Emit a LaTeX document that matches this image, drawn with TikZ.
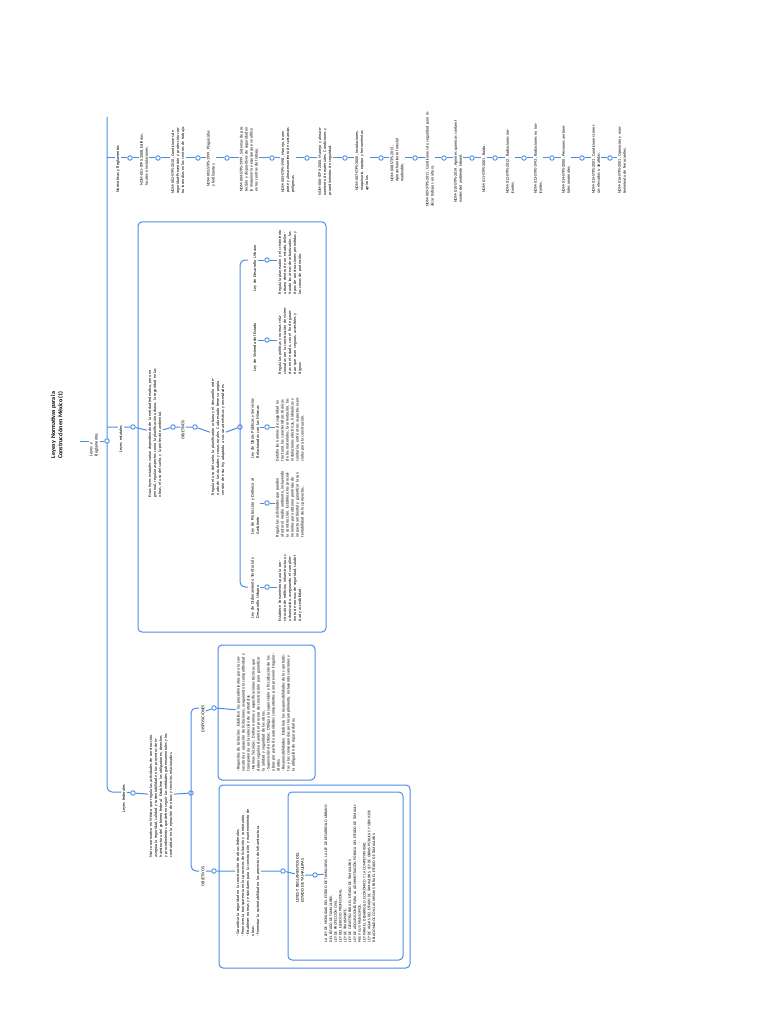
\documentclass[tikz,border=0pt]{standalone}
\usepackage{fontspec}
\setmainfont{Carlito}
\definecolor{mblue}{RGB}{74,140,228}
\begin{document}
\begin{tikzpicture}[x=1pt,y=-1pt,
 ln/.style={draw=mblue,line width=1pt},
 dot/.style={circle,draw=mblue,fill=white,line width=0.9pt,minimum size=4.5pt,inner sep=0pt},
 txt/.style={rotate=90,align=left,font=\fontsize{4.1}{5}\selectfont,inner sep=1pt,text width=#1},
 txt/.default=60,
 lab/.style={rotate=90,align=left,font=\fontsize{4.3}{5.1}\selectfont,inner sep=1pt,text width=#1},
 lab/.default=50,
 box/.style={draw=mblue,line width=1pt,rounded corners=4pt}]
\useasboundingbox (0,0) rectangle (768,1024);
\fill[white] (0,0) rectangle (768,1024);
% title & root
\node[rotate=90,align=center,font=\fontsize{6}{7.2}\selectfont\bfseries] (title) at (57,425) {Leyes y Normativas para la\\Construcción en México (1)};
\node[lab=30] (root) at (94,441) {Leyes y Reglamentos};
\coordinate (tt) at (80,441);
\draw[ln] (tt) -- (root);
% spine
\coordinate (sTop) at (107,117);
\coordinate (sBot) at (121,792);
\draw[ln,rounded corners=5pt] (sTop) -- (107,792) -- (sBot);
\node[dot] (rootdot) at (107,441) {};
\draw[ln] (root) -- (rootdot);
% Normativas chain
\node[lab=70] (norm) at (118,158) {Normativas y Reglamentos};
\coordinate (sn) at (107,158);
\draw[ln] (sn) -- (norm);
\foreach \i/\cx/\nx/\w/\t in {
1/130/144/55/{NOM-001-STPS-2008, Edificios, locales e instalaciones.},
2/158/178/72/{NOM-002-STPS-2010, Condiciones de seguridad-Prevención y protección contra incendios en los centros de trabajo.},
3/198/211/58/{NOM-003-STPS-1999, Plaguicidas y fertilizantes.},
4/227/249/68/{NOM-004-STPS-1999, Sistemas de protección y dispositivos de seguridad en la maquinaria y equipo que se utilice en los centros de trabajo.},
5/272/288/70/{NOM-005-STPS-1998, Manejo, transporte y almacenamiento de sustancias peligrosas.},
6/307/325/75/{NOM-006-STPS-2000, Manejo y almacenamiento de materiales. Condiciones y procedimientos de seguridad.},
7/345/362/66/{NOM-007-STPS-2000, Instalaciones, maquinaria, equipo y herramientas agrícolas.},
8/381/397/48/{NOM-008-STPS-2013, Aprovechamiento forestal maderable.},
9/415/430/98/{NOM-009-STPS-2011, Condiciones de seguridad para realizar trabajos en altura.},
10/444/458/90/{NOM-010-STPS-2014, Agentes químicos contaminantes del ambiente laboral.},
11/472/484/70/{NOM-011-STPS-2001, Ruido.},
12/495/510/72/{NOM-012-STPS-2012, Radiaciones ionizantes.},
13/524/538/72/{NOM-013-STPS-1993, Radiaciones no ionizantes.},
14/552/566/72/{NOM-014-STPS-2000, Presiones ambientales anormales.},
15/582/596/72/{NOM-015-STPS-2001, Condiciones térmicas elevadas o abatidas.},
16/610/622/72/{NOM-016-STPS-2001, Operación y mantenimiento de ferrocarriles.}}{
 \node[dot] (c\i) at (\cx,158) {};
 \node[txt=\w] (n\i) at (\nx,158) {\t};
 \draw[ln] (c\i) -- (n\i);
}
\draw[ln] (norm) -- (c1);
\foreach \a/\b in {1/2,2/3,3/4,4/5,5/6,6/7,7/8,8/9,9/10,10/11,11/12,12/13,13/14,14/15,15/16}{
 \draw[ln] (n\a) -- (c\b);
}
% Leyes estatales
\draw[box] (138,222) rectangle (326,632);
\coordinate (se) at (107,427);
\node[lab=50] (est) at (121,427) {Leyes estatales};
\node[dot] (estdot) at (133,427) {};
\node[txt=130] (estT) at (155,432) {Estas leyes estatales varían dependiendo de la entidad federativa, pero en general, regulan aspectos como la planificación urbana, la seguridad en las obras, el uso del suelo, y la protección ambiental.};
\node[dot] (estd2) at (173,427) {};
\node[lab=25] (estO) at (183,427) {OBJETIVOS};
\node[dot] (estd3) at (195,427) {};
\node[txt=120] (estR) at (218,435) {Regula el uso del suelo, la planificación urbana y el desarrollo ordenado de las ciudades y zonas rurales. Cada estado tiene su propia versión de esta ley, adaptada a sus características y necesidades.};
\node[dot] (bus) at (240,427) {};
\draw[ln] (se) -- (est) -- (estdot) -- (estT) -- (estd2) -- (estO) -- (estd3) -- (estR) -- (bus);
\coordinate (bT) at (248,260);
\coordinate (bB) at (248,587);
\draw[ln,rounded corners=5pt] (bT) -- (240,260) -- (240,587) -- (bB);
\foreach \i/\y/\l/\t in {
a/260/{Ley de Desarrollo Urbano}/{Regula la planeación y el crecimiento urbano dentro de un estado, delimitando las áreas de urbanización, los tipos de construcciones permitidas y las zonas de protección.},
b/340/{Ley de Vivienda del Estado}/{Regula las políticas y normas relacionadas con la construcción de viviendas en el estado, con el fin de garantizar que sean seguras, accesibles y dignas.},
c/427/{Ley de Obras Públicas y Servicios Relacionados con las Mismas}/{Detalla las normas de seguridad estructural, las características técnicas de los materiales, la orientación, las instalaciones eléctricas, hidráulicas y sanitarias, entre otros aspectos esenciales para la construcción.},
d/503/{Ley de Protección y Defensa al Ambiente}/{Regula las actividades que pueden afectar el medio ambiente, incluyendo la construcción. Establece los procedimientos para obtener permisos de impacto ambiental y garantizar la sustentabilidad de los proyectos.},
e/587/{Ley de Ordenamiento Territorial y Desarrollo Urbano}/{Establece lineamientos para la construcción de edificios, infraestructura y urbanización, asegurando el cumplimiento de normas de seguridad, salubridad y accesibilidad.}}{
 \node[lab=62] (L\i) at (255,\y) {\l};
 \node[dot] (D\i) at (267,\y) {};
 \node[txt=68] (T\i) at (290,\y) {\t};
 \draw[ln] (L\i) -- (D\i) -- (T\i);
}
% Leyes federales
\node[lab=40] (fed) at (124,792) {Leyes federales};
\node[dot] (feddot) at (133,793) {};
\node[txt=125] (fedT) at (161,795) {Marco normativo en México que regula las actividades de construcción, asegura la seguridad, calidad y sustentabilidad en los proyectos de infraestructura del gobierno federal. Establece las obligaciones, derechos y procedimientos que deben seguir las entidades gubernamentales y los contratistas en la ejecución de obras y servicios relacionados.};
\node[dot] (fbus) at (191,793) {};
\draw[ln] (sBot) -- (fed) -- (feddot) -- (fedT) -- (fbus);
\draw[ln,rounded corners=5pt] (199,708) -- (191,708) -- (191,871) -- (199,871);
% Disposiciones
\draw[box] (218,645) rectangle (315,780);
\node[lab=40] (disp) at (203,712) {DISPOSICIONES};
\node[dot] (dispdot) at (214,708) {};
\node[txt=118] (dispT) at (266,712) {-Requisitos de Licitación: Establece los procedimientos para la convocatoria y ejecución de licitaciones, asegurando la competitividad y transparencia en la selección de contratistas.\\-Normas Técnicas: Define normas y especificaciones técnicas que deben seguirse durante el proceso de construcción para garantizar la calidad y seguridad de las obras.\\-Supervisión de Obras: Obliga a la supervisión y fiscalización de las obras por parte de autoridades competentes para prevenir irregularidades.\\-Responsabilidades: Establece las responsabilidades de los contratistas y las consecuencias por incumplimiento, incluyendo sanciones y la obligación de reparar daños.};
\draw[ln] (disp) -- (dispdot) -- (dispT);
% Objetivos federales
\draw[box] (219,785) rectangle (410,968);
\draw[box] (288,792) rectangle (403,960);
\node[lab=30] (obj) at (203,871) {OBJETIVOS};
\node[dot] (objdot) at (214,871) {};
\node[txt=130] (objT) at (248,871) {-Garantizar la seguridad en la construcción de obras federales.\\-Promover la transparencia en los procesos de licitación y contratación.\\-Establecer normas y estándares para la construcción y mantenimiento de obras.\\-Fomentar la sustentabilidad en los proyectos de infraestructura.};
\node[dot] (objd2) at (283,871) {};
\node[lab=55] (tam) at (300,875) {LEYES Y REGLAMENTOS DEL ESTADO DE TAMAULIPAS};
\node[dot] (objd3) at (315,875) {};
\node[txt=140,font=\fontsize{3.8}{4.8}\selectfont] (tamT) at (350,872) {LA LEY DE MOVILIDAD DEL ESTADO DE TAMAULIPAS, LA LEY DE DESARROLLO URBANO DEL ESTADO DE TAMAULIPAS.\\LEY DE PROTECCIÓN CIVIL.\\LEY DEL EJERCICIO PROFESIONAL.\\LEY DE TRANSPORTE.\\LEY DE CATASTRO PARA EL ESTADO DE TAMAULIPAS.\\LEY DE ADQUISICIONES PARA LA ADMINISTRACIÓN PÚBLICA DEL ESTADO DE TAMAULIPAS Y SUS MUNICIPIOS.\\LEY PARA EL DESARROLLO ECONÓMICO Y LA COMPETITIVIDAD.\\LEY DE AGUAS DEL ESTADO DE TAMAULIPAS. LEY DE OBRAS PÚBLICAS Y SERVICIOS RELACIONADOS CON LAS MISMAS PARA EL ESTADO DE TAMAULIPAS.};
\draw[ln] (obj) -- (objdot) -- (objT) -- (objd2) -- (tam) -- (objd3) -- (tamT);
\end{tikzpicture}
\end{document}
